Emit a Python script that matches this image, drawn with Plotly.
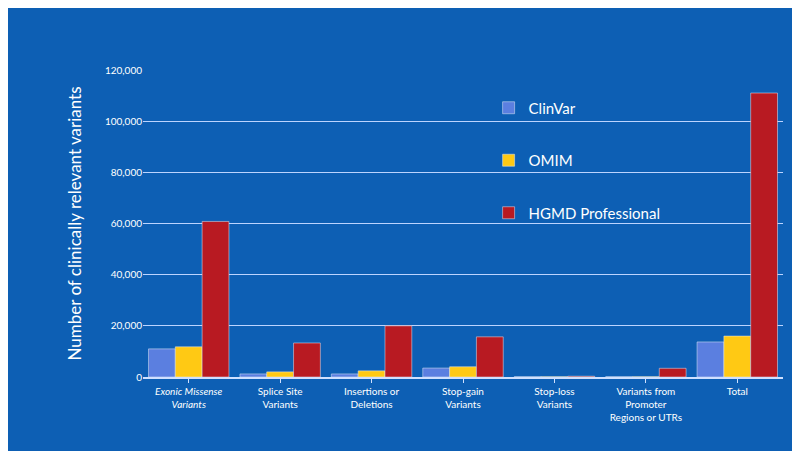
import plotly.graph_objects as go

categories = ["<i>Exonic Missense<br>Variants</i>", "Splice Site<br>Variants", "Insertions or<br>Deletions",
              "Stop-gain<br>Variants", "Stop-loss<br>Variants", "Variants from<br>Promoter<br>Regions or UTRs", "Total"]
clinvar = [11000, 1200, 1200, 3500, 100, 100, 13700]
omim = [11800, 2000, 2400, 4000, 100, 100, 16000]
hgmd = [60800, 13300, 20000, 15700, 300, 3400, 111000]
y_ticks = [0, 20000, 40000, 60000, 80000, 100000, 120000]

bg = "#0d5fb4"
fig = go.Figure()
fig.add_trace(go.Bar(x=categories, y=clinvar, name="ClinVar", marker_color="#5b7fe0", legendgroup="a"))
fig.add_trace(go.Bar(x=categories, y=omim, name="OMIM", marker_color="#ffc914", legendgroup="b"))
fig.add_trace(go.Bar(x=categories, y=hgmd, name="HGMD Professional", marker_color="#b81a22", legendgroup="c"))

fig.update_layout(
    width=800, height=451,
    paper_bgcolor=bg, plot_bgcolor=bg,
    font=dict(family="Lato", color="white", size=11),
    margin=dict(l=135, r=25, t=62, b=82),
    barmode="group", bargap=0.12, bargroupgap=0,
    legend=dict(x=0.54, y=0.93, xanchor="left", yanchor="top",
                font=dict(size=15), tracegroupgap=30,
                bgcolor="rgba(0,0,0,0)"),
    xaxis=dict(showline=True, linecolor="#cfe0ff", linewidth=2, ticks="outside",
               tickcolor="#cfe0ff", ticklen=4, tickfont=dict(size=10)),
    yaxis=dict(range=[0, 120000], tickvals=y_ticks, tickformat=",", showgrid=True,
               gridcolor="#bcd4ff", gridwidth=1, zeroline=False, tickfont=dict(size=10),
               title=dict(text="Number of clinically relevant variants", font=dict(size=17), standoff=18)),
)
fig.write_html("out.html")
